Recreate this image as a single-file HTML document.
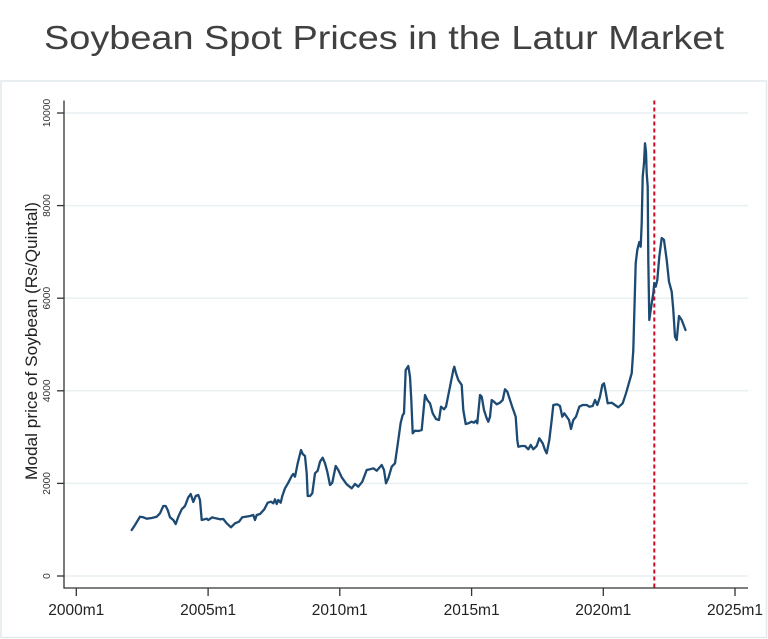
<!DOCTYPE html>
<html>
<head>
<meta charset="utf-8">
<style>
html,body{margin:0;padding:0;background:#fff;}
svg{display:block;}
</style>
</head>
<body>
<svg width="768" height="639" viewBox="0 0 768 639" xmlns="http://www.w3.org/2000/svg">
  <rect x="0" y="0" width="768" height="639" fill="#ffffff"/>
  <text x="384" y="49" text-anchor="middle" font-family="Liberation Sans, sans-serif" font-size="33" fill="#404040" textLength="680" lengthAdjust="spacingAndGlyphs">Soybean Spot Prices in the Latur Market</text>
  <rect x="1" y="81" width="765.5" height="556.5" fill="#ffffff" stroke="#e2eaec" stroke-width="1.5"/>

  <!-- gridlines -->
  <g stroke="#e8f0f2" stroke-width="1.5">
    <line x1="64" y1="576" x2="748" y2="576"/>
    <line x1="64" y1="483.4" x2="748" y2="483.4"/>
    <line x1="64" y1="390.8" x2="748" y2="390.8"/>
    <line x1="64" y1="298.2" x2="748" y2="298.2"/>
    <line x1="64" y1="205.6" x2="748" y2="205.6"/>
    <line x1="64" y1="113" x2="748" y2="113"/>
  </g>

  <!-- axes -->
  <g stroke="#333" stroke-width="1.3">
    <line x1="64" y1="100.5" x2="64" y2="588"/>
    <line x1="63.4" y1="588" x2="748" y2="588"/>
    <line x1="57" y1="576" x2="64" y2="576"/>
    <line x1="57" y1="483.4" x2="64" y2="483.4"/>
    <line x1="57" y1="390.8" x2="64" y2="390.8"/>
    <line x1="57" y1="298.2" x2="64" y2="298.2"/>
    <line x1="57" y1="205.6" x2="64" y2="205.6"/>
    <line x1="57" y1="113" x2="64" y2="113"/>
    <line x1="76.3" y1="588" x2="76.3" y2="596"/>
    <line x1="208.1" y1="588" x2="208.1" y2="596"/>
    <line x1="339.8" y1="588" x2="339.8" y2="596"/>
    <line x1="471.6" y1="588" x2="471.6" y2="596"/>
    <line x1="603.3" y1="588" x2="603.3" y2="596"/>
    <line x1="735" y1="588" x2="735" y2="596"/>
  </g>

  <!-- y tick labels -->
  <g font-family="Liberation Sans, sans-serif" font-size="10.2" fill="#333" text-anchor="middle">
    <text transform="translate(50,576) rotate(-90)">0</text>
    <text transform="translate(50,483.4) rotate(-90)">2000</text>
    <text transform="translate(50,390.8) rotate(-90)">4000</text>
    <text transform="translate(50,298.2) rotate(-90)">6000</text>
    <text transform="translate(50,205.6) rotate(-90)">8000</text>
    <text transform="translate(50,113) rotate(-90)">10000</text>
  </g>

  <!-- y axis title -->
  <text transform="translate(37,341) rotate(-90)" font-family="Liberation Sans, sans-serif" font-size="16.5" fill="#222" text-anchor="middle" textLength="278" lengthAdjust="spacingAndGlyphs">Modal price of Soybean (Rs/Quintal)</text>

  <!-- x tick labels -->
  <g font-family="Liberation Sans, sans-serif" font-size="15.5" fill="#222" text-anchor="middle">
    <text x="76.3" y="615">2000m1</text>
    <text x="208.1" y="615">2005m1</text>
    <text x="339.8" y="615">2010m1</text>
    <text x="471.6" y="615">2015m1</text>
    <text x="603.3" y="615">2020m1</text>
    <text x="735" y="615">2025m1</text>
  </g>

  <!-- red dashed line -->
  <line x1="654.3" y1="100.5" x2="654.3" y2="588" stroke="#d10a24" stroke-width="2" stroke-dasharray="4,3"/>

  <!-- series -->
  <polyline fill="none" stroke="#1d4a72" stroke-width="2.3" stroke-linejoin="round" stroke-linecap="round" points="131.7,530 135,525 140,516.7 143.3,517.3 146.7,518.7 151.7,518 156.7,516.7 160,513.3 163.3,506 165.7,506 167.7,510 170,517.3 173.3,520 175.7,524 178.3,516.7 181.7,509.3 185,506 188.3,497.3 190.7,494 193.3,502 195.7,496 198.3,495 200,500 201.7,520 204.3,519.3 206.7,518.7 208.3,520 212.3,517.3 215.7,518.3 220,519.3 223.3,519 226.7,523.3 231,527.3 235,523.3 239,521.7 242.3,517.3 245.7,516.7 250,516 253.3,515 255,520 256.7,515 260,514 264.3,509.3 267.7,502.7 271,501.7 273.3,503.3 275,499.3 276.7,504 278.3,500 280.7,502.7 282.3,496 285,488.3 288.3,482.7 291.7,476 293.3,474 295,476.7 297.7,463.3 301,450 302.7,454 305,456 306.7,473.3 307.7,496 310,496 312.3,493.3 315,473.3 317.7,470.7 320,461.7 322.7,457.7 325,463.3 327.3,471.7 330,485 332.3,482.7 335.7,466 338.3,470 341.7,477.3 346.7,484.3 351.7,488.3 355,484 358.3,486.7 362.3,481.7 366.7,470 370,469.3 373.3,468.3 376.7,470.7 381.7,465 384,470 386,483.3 388.3,478.3 391.7,466.7 395,463.3 398.3,440 400.7,422.7 402.7,415 404,413.3 405.7,370 408.3,366 410,376.7 411.3,400 412.7,433.3 415,430.7 418.3,431 421.7,430 425,395 427.3,400 430,403.3 432.7,413.3 436,419 439,420 441,406.7 444,409.3 446,406.7 450,386.7 453.3,370 454.3,366.7 456,373.3 458.3,380 461.7,385 463.3,410 465.7,424 468.3,423.3 471.7,421.7 474,422.7 476,420.7 477.3,423.3 480,395 481.7,396.7 484,410 486.7,418.3 488.3,421.7 490,416.7 491.7,400 494,401.7 496.7,404.3 500,402.7 502.7,400 505,389.3 507.3,391.7 510,400 512.7,408.3 515.7,416.7 517.3,440 518.3,446.7 521.7,446 525,446 528.3,449.3 530.7,445 533.3,449.3 536.7,446 539.3,438.3 542.7,443.3 545,450 546.7,453.3 549.3,440 551.7,420 553.3,405 557.3,404.3 560,406 562.3,416.7 564.3,413.3 566.7,416.7 569,420 571,429 573.3,420 576,416.7 579.3,406.7 582.7,405 586.7,405 589.3,406.7 592.7,406 595,400 597.3,405 600,396.7 602.3,385 604,383.3 605.7,391.7 607.7,403.3 611.7,402.7 615,405 618.3,407.3 622.7,403.3 626,393.3 629.3,381.7 631.7,373.3 633.3,350 634.3,313.3 635.7,263.3 637.3,250 639.3,242 640.7,246.7 641.7,223.3 642.7,176.7 644,163.3 645,143.3 646,151.7 646.7,173.3 647.7,186.7 648.3,260 649.3,320 650.7,310 651.7,303.3 653.3,293.3 654.3,283 655.7,286.7 657.3,280 659.3,256.7 661.7,238 663.3,239.3 664,240 666.7,260 669,281.7 671.7,291.7 673.3,310 675,336.7 676.7,340 679,316 681.7,320 685.5,330"/>
</svg>
</body>
</html>
